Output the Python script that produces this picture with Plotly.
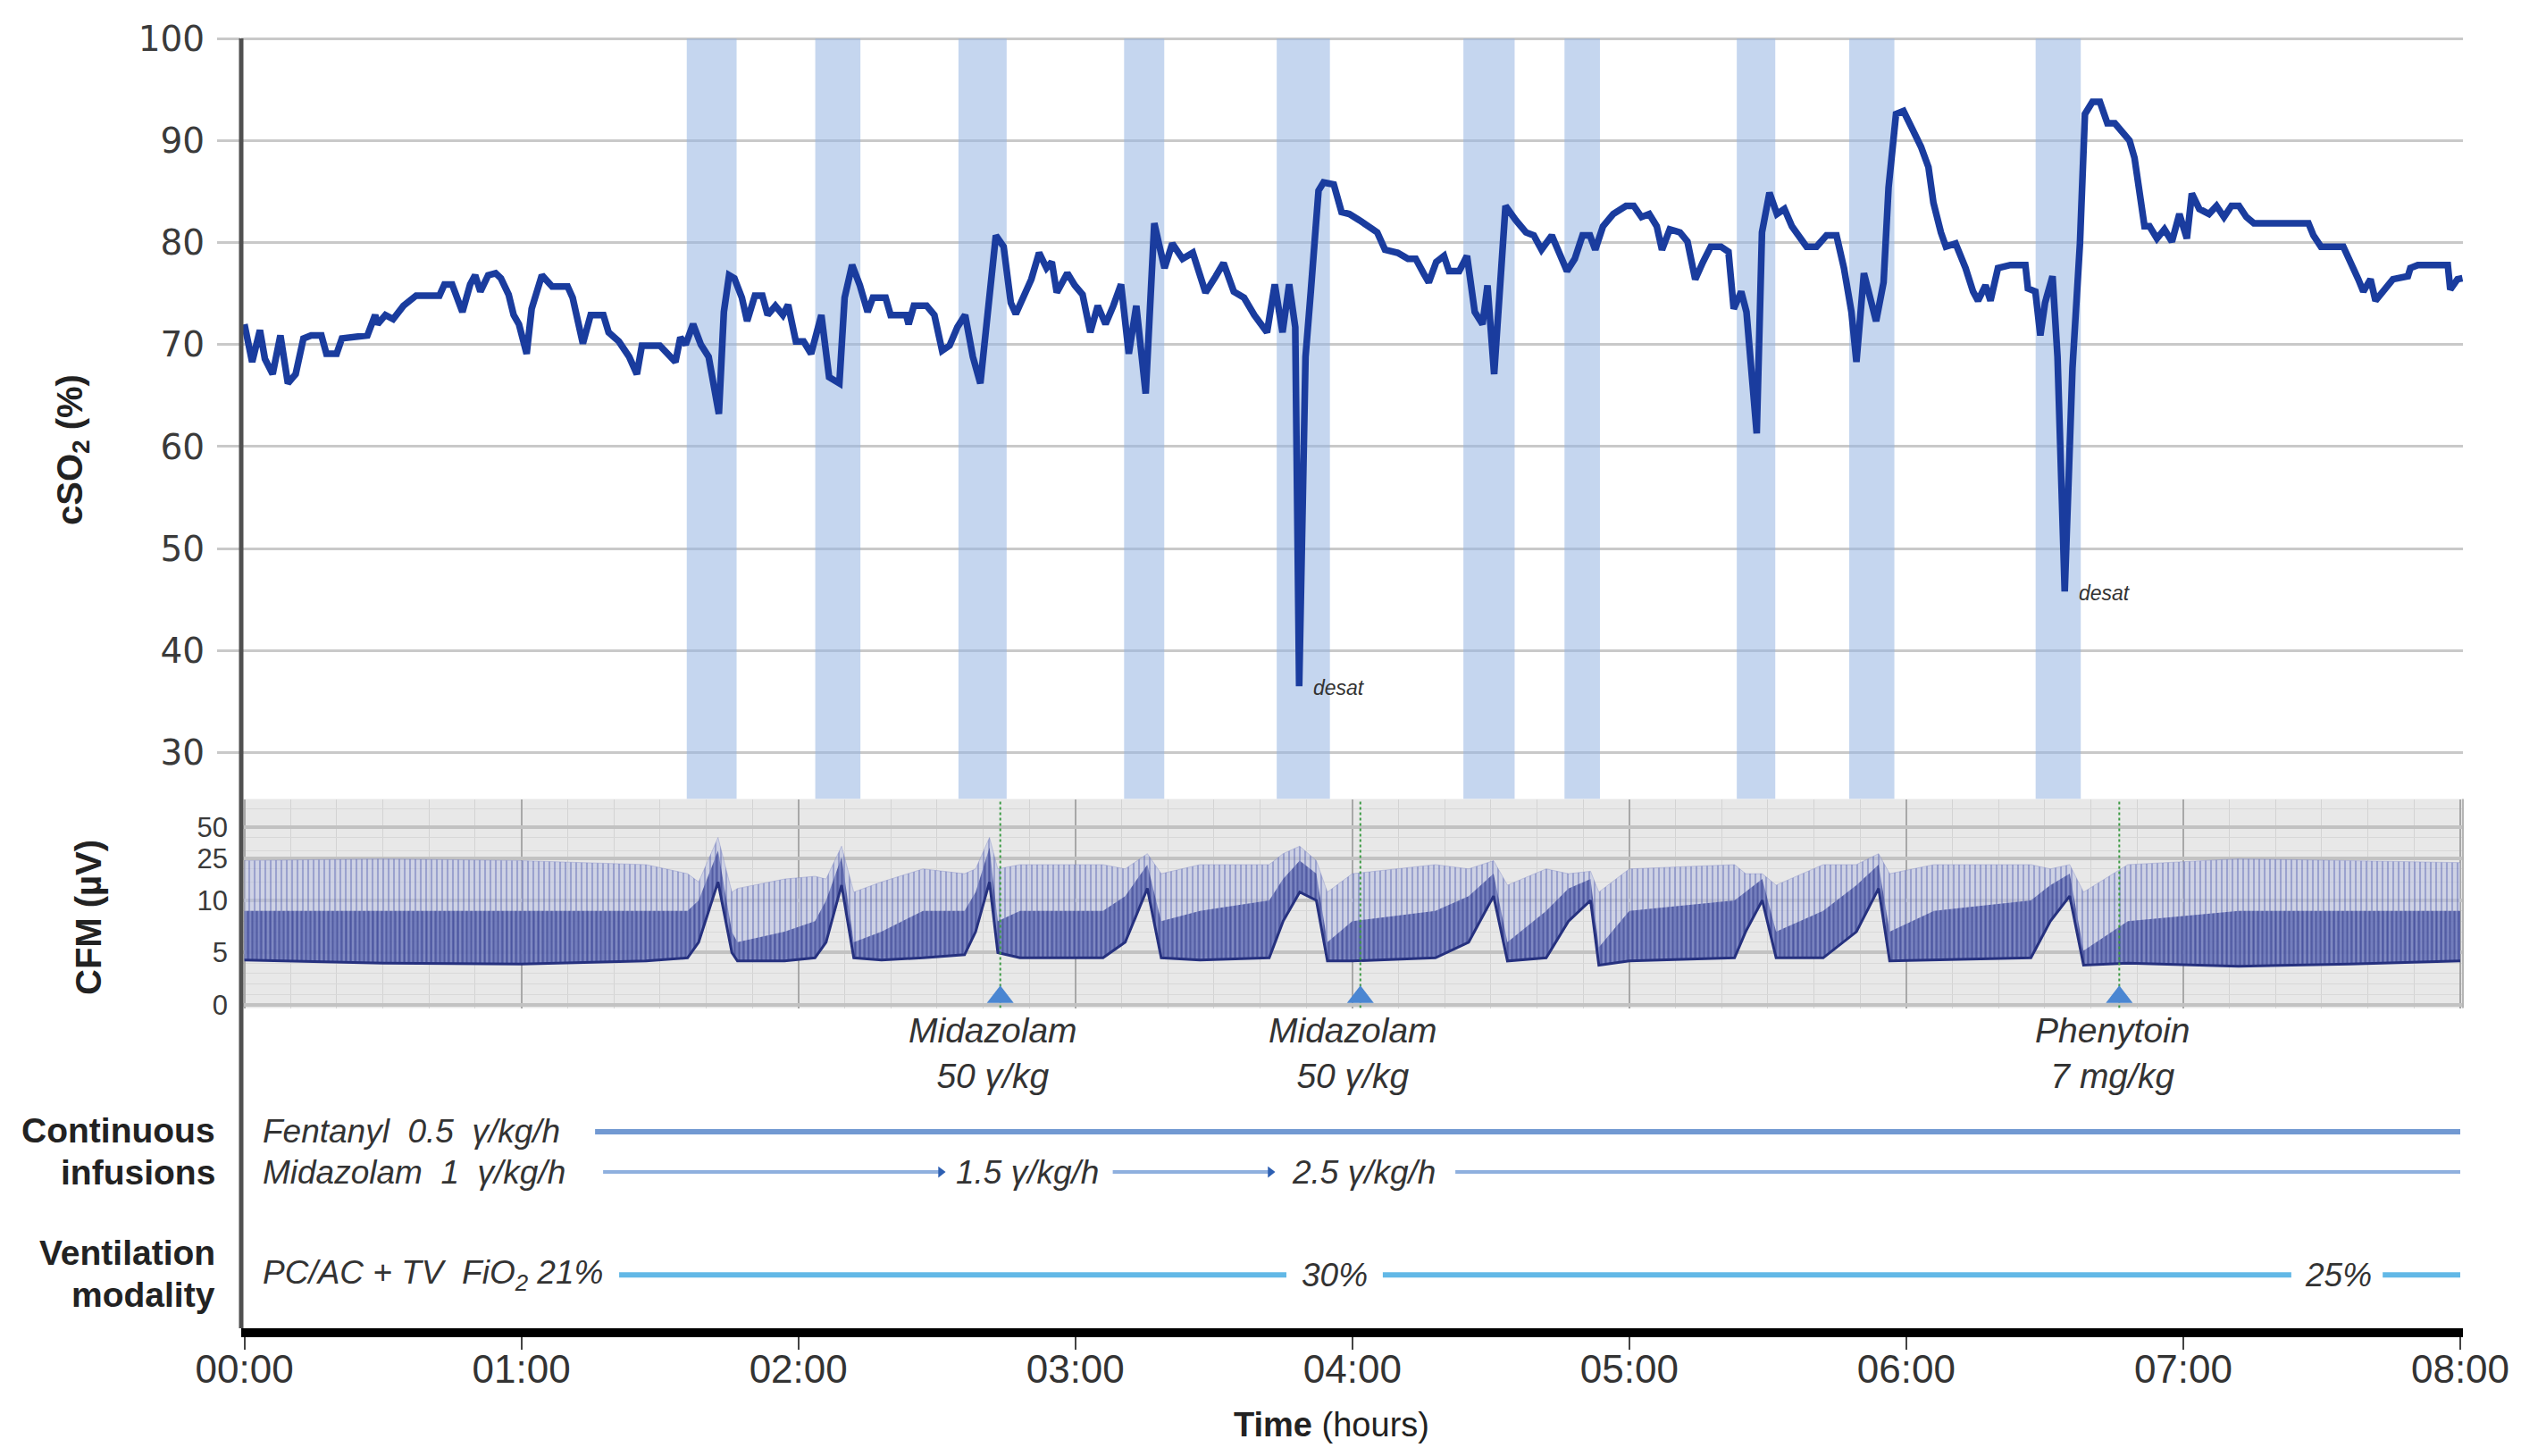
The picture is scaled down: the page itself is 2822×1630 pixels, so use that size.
import numpy as np
import plotly.graph_objects as go

# page has an 8px body margin, so the figure is drawn 8px in from the window edges
PAGE_PAD = 8
W, H = 2822 - 2 * PAGE_PAD, 1630 - 2 * PAGE_PAD

# ---- cSO2 trace (hours, %) ----
cso2_hours = [
    0.000, 0.028, 0.056, 0.074, 0.102, 0.130, 0.157, 0.185, 0.213, 0.241, 0.278, 0.296,
    0.333, 0.352, 0.444, 0.472, 0.481, 0.509, 0.537, 0.574, 0.620, 0.704, 0.722, 0.750,
    0.787, 0.815, 0.833, 0.852, 0.880, 0.907, 0.926, 0.954, 0.972, 0.991, 1.019, 1.037,
    1.074, 1.111, 1.167, 1.185, 1.222, 1.250, 1.296, 1.315, 1.352, 1.389, 1.417, 1.435,
    1.500, 1.556, 1.574, 1.593, 1.620, 1.648, 1.676, 1.713, 1.731, 1.750, 1.769, 1.796,
    1.815, 1.843, 1.870, 1.889, 1.917, 1.944, 1.963, 1.991, 2.019, 2.046, 2.083, 2.111,
    2.148, 2.167, 2.194, 2.222, 2.250, 2.269, 2.315, 2.333, 2.389, 2.398, 2.417, 2.463,
    2.491, 2.519, 2.546, 2.574, 2.602, 2.630, 2.657, 2.685, 2.713, 2.741, 2.767, 2.785,
    2.813, 2.841, 2.869, 2.896, 2.915, 2.933, 2.971, 2.998, 3.026, 3.054, 3.081, 3.109,
    3.137, 3.165, 3.193, 3.220, 3.254, 3.285, 3.304, 3.322, 3.350, 3.387, 3.424, 3.470,
    3.507, 3.535, 3.572, 3.609, 3.646, 3.692, 3.720, 3.748, 3.772, 3.794, 3.808, 3.831,
    3.850, 3.878, 3.896, 3.933, 3.961, 3.989, 4.025, 4.053, 4.090, 4.118, 4.164, 4.201,
    4.229, 4.257, 4.276, 4.303, 4.331, 4.349, 4.386, 4.414, 4.442, 4.470, 4.488, 4.512,
    4.535, 4.553, 4.590, 4.627, 4.655, 4.683, 4.720, 4.748, 4.775, 4.803, 4.831, 4.858,
    4.877, 4.905, 4.942, 4.988, 5.016, 5.044, 5.072, 5.099, 5.118, 5.146, 5.183, 5.210,
    5.238, 5.266, 5.294, 5.331, 5.358, 5.377, 5.404, 5.423, 5.460, 5.479, 5.506, 5.533,
    5.560, 5.587, 5.604, 5.640, 5.676, 5.712, 5.748, 5.775, 5.802, 5.820, 5.847, 5.870,
    5.891, 5.918, 5.936, 5.963, 5.990, 6.017, 6.053, 6.080, 6.098, 6.125, 6.143, 6.178,
    6.196, 6.214, 6.241, 6.259, 6.286, 6.304, 6.331, 6.376, 6.430, 6.439, 6.466, 6.484,
    6.501, 6.528, 6.546, 6.572, 6.600, 6.627, 6.645, 6.672, 6.699, 6.726, 6.753, 6.779,
    6.806, 6.824, 6.842, 6.860, 6.878, 6.905, 6.932, 6.959, 6.986, 7.013, 7.031, 7.058,
    7.093, 7.120, 7.147, 7.174, 7.201, 7.228, 7.255, 7.452, 7.470, 7.497, 7.578, 7.605,
    7.632, 7.650, 7.676, 7.694, 7.721, 7.757, 7.811, 7.820, 7.847, 7.955, 7.964, 7.990,
    8.008,
]
cso2_values = [
    72.0, 68.3, 71.4, 68.6, 67.1, 70.9, 66.2, 67.1, 70.6, 70.9, 70.9, 69.1,
    69.1, 70.6, 70.9, 72.9, 72.0, 72.9, 72.5, 73.8, 74.8, 74.8, 75.9, 75.9,
    73.2, 75.9, 76.8, 75.2, 76.8, 77.0, 76.5, 74.9, 72.9, 72.0, 69.1, 73.5,
    76.8, 75.7, 75.7, 74.6, 70.1, 72.9, 72.9, 71.2, 70.3, 68.8, 67.1, 69.9,
    69.9, 68.3, 70.7, 70.0, 72.0, 70.0, 68.8, 63.2, 73.2, 76.8, 76.5, 74.6,
    72.3, 74.8, 74.8, 72.9, 73.8, 72.9, 73.9, 70.3, 70.3, 69.1, 72.9, 66.8,
    66.2, 74.6, 77.8, 75.8, 73.2, 74.6, 74.6, 72.9, 72.9, 72.0, 73.8, 73.8,
    72.9, 69.4, 69.9, 71.7, 72.9, 68.8, 66.2, 73.2, 80.7, 79.6, 74.1, 73.0,
    74.6, 76.4, 79.0, 77.5, 78.1, 75.1, 77.0, 75.8, 74.9, 71.2, 73.8, 72.0,
    73.8, 75.9, 69.1, 73.8, 65.2, 81.9, 79.6, 77.5, 79.9, 78.4, 79.0, 75.1,
    76.7, 78.0, 75.2, 74.6, 72.9, 71.2, 75.9, 71.2, 75.9, 71.7, 36.5, 68.8,
    75.2, 85.1, 85.9, 85.7, 83.0, 82.8, 82.2, 81.6, 81.0, 79.3, 79.0, 78.4,
    78.4, 77.0, 76.1, 78.1, 78.7, 77.2, 77.2, 78.7, 73.2, 72.0, 75.8, 67.1,
    76.1, 83.6, 82.2, 81.0, 80.7, 79.3, 80.7, 78.7, 77.2, 78.4, 80.7, 80.7,
    79.3, 81.6, 82.8, 83.6, 83.6, 82.5, 82.8, 81.6, 79.3, 81.3, 81.0, 80.1,
    76.4, 78.1, 79.6, 79.6, 79.1, 73.5, 75.2, 73.2, 61.3, 81.0, 84.9, 82.8,
    83.3, 81.6, 81.0, 79.6, 79.6, 80.7, 80.7, 77.5, 73.2, 68.3, 77.0, 74.6,
    72.3, 76.1, 85.4, 92.6, 92.9, 91.4, 89.4, 87.4, 83.9, 81.0, 79.6, 79.9,
    78.7, 77.5, 75.2, 74.3, 75.8, 74.3, 77.5, 77.8, 77.8, 75.5, 75.2, 70.9,
    74.1, 76.7, 68.8, 45.8, 67.7, 79.9, 92.6, 93.8, 93.8, 91.7, 91.7, 90.9,
    90.0, 88.3, 84.8, 81.6, 81.6, 80.4, 81.3, 80.1, 82.8, 80.4, 84.8, 83.3,
    82.8, 83.6, 82.5, 83.6, 83.6, 82.5, 81.9, 81.9, 80.7, 79.6, 79.6, 78.1,
    76.4, 75.2, 76.4, 74.3, 75.2, 76.4, 76.7, 77.5, 77.8, 77.8, 75.4, 76.4,
    76.5,
]

# seizure periods (shaded bands), hours
seizure_start = [1.597, 2.061, 2.578, 3.176, 3.727, 4.401, 4.766, 5.388, 5.794, 6.467]
seizure_end = [1.777, 2.224, 2.752, 3.321, 3.919, 4.586, 4.894, 5.527, 5.957, 6.630]

desat_hours = [3.808, 6.572]
desat_values = [36.5, 45.8]

# ---- CFM envelope (hours, microvolts) ----
cfm_hours = [0.00, 0.50, 1.00, 1.45, 1.60, 1.64, 1.71, 1.76, 1.78, 1.95, 2.06, 2.10,
             2.156, 2.20, 2.30, 2.45, 2.60, 2.64, 2.69, 2.72, 2.80, 3.10, 3.18, 3.26,
             3.31, 3.45, 3.70, 3.75, 3.81, 3.87, 3.91, 4.00, 4.30, 4.42, 4.51, 4.56,
             4.70, 4.78, 4.86, 4.89, 5.00, 5.38, 5.42, 5.48, 5.53, 5.70, 5.82, 5.90,
             5.94, 6.10, 6.45, 6.52, 6.59, 6.64, 6.80, 7.20, 7.60, 8.00]
cfm_low = [4.3, 4.0, 3.9, 4.2, 4.5, 6.0, 15.0, 5.0, 4.2, 4.2, 4.5, 6.0,
           14.0, 4.5, 4.3, 4.5, 4.8, 7.0, 15.0, 5.0, 4.5, 4.5, 6.0, 13.0,
           4.5, 4.3, 4.5, 8.0, 12.0, 10.0, 4.2, 4.2, 4.5, 6.0, 11.0, 4.2,
           4.5, 8.0, 10.0, 3.8, 4.2, 4.5, 7.0, 10.0, 4.5, 4.5, 7.0, 13.0,
           4.2, 4.3, 4.5, 8.0, 11.0, 3.8, 4.0, 3.7, 3.9, 4.2]
cfm_core = [9, 9, 9, 9, 9, 10, 30, 7, 6, 7, 8, 10,
            26, 6, 7, 9, 9, 12, 32, 8, 9, 9, 11, 22,
            8, 9, 10, 16, 24, 18, 6, 8, 9, 11, 18, 6,
            9, 13, 16, 5.5, 9, 10, 12, 16, 7, 9, 14, 22,
            7, 9, 10, 14, 18, 5.2, 8, 9, 9, 9]
cfm_high = [24, 25, 24, 22, 18, 15, 40, 12, 13, 16, 17, 16,
            33, 12, 15, 20, 18, 20, 40, 20, 22, 22, 20, 28,
            18, 22, 22, 28, 33, 24, 12, 18, 22, 20, 24, 14,
            20, 18, 19, 12, 20, 22, 18, 18, 14, 22, 22, 28,
            18, 22, 22, 20, 22, 12, 22, 25, 24, 23]
cfm_tick_values = [0, 5, 10, 25, 50]
cfm_minor_values = [1, 2, 3, 4, 6, 7, 8, 9, 15, 20, 30, 40, 75]

# boluses
bolus_hours = [2.729, 4.029, 6.769]
bolus_labels = ["Midazolam<br>50 γ/kg", "Midazolam<br>50 γ/kg", "Phenytoin<br>7 mg/kg"]

# continuous infusions / ventilation
fentanyl_segments = [(1.266, 8.0)]
midazolam_segments = [(1.295, 2.514), (3.135, 3.704), (4.372, 8.0)]
midazolam_arrows = [2.514, 3.704]
midazolam_rate_hours = [2.827, 4.040]
midazolam_rate_labels = ["1.5 γ/kg/h", "2.5 γ/kg/h"]
vent_segments = [(1.353, 3.762), (4.11, 7.39), (7.72, 8.0)]
fio2_hours = [3.936, 7.559]
fio2_labels = ["30%", "25%"]

hour_ticks = [0, 1, 2, 3, 4, 5, 6, 7, 8]
hour_labels = ["00:00", "01:00", "02:00", "03:00", "04:00", "05:00", "06:00", "07:00", "08:00"]


def cfm_scale(v):
    # aEEG amplitude axis: linear 0-10 uV, logarithmic 10-100 uV
    v = np.asarray(v, dtype=float)
    return np.where(v <= 10, v / 10.0, 1 + np.log10(np.maximum(v, 10) / 10.0))


def px(x):
    # window pixel -> paper fraction
    return (x - PAGE_PAD) / W


def py(y):
    return 1 - (y - PAGE_PAD) / H


X_RANGE = [-0.0116, 8.0097]
X_DOM = [px(270), px(2757)]
Y1_RANGE = [25.43, 100.3]
Y2_RANGE = [-0.031, 1.969]
SANS = "Liberation Sans, Arial, sans-serif"
TXT = "#333333"

fig = go.Figure()

# cSO2
fig.add_trace(go.Scatter(x=cso2_hours, y=cso2_values, mode="lines",
                         line=dict(color="#1a3c9e", width=7.5), xaxis="x", yaxis="y"))

# CFM bands (vertical hatching stands in for the dense raw trace)
fig.add_trace(go.Scatter(x=cfm_hours, y=cfm_scale(cfm_high), mode="lines",
                         line=dict(color="rgba(120,130,195,0.35)", width=1), xaxis="x2", yaxis="y2"))
fig.add_trace(go.Scatter(x=cfm_hours, y=cfm_scale(cfm_low), mode="lines", fill="tonexty",
                         fillcolor="rgba(150,160,210,0.35)",
                         fillpattern=dict(shape="|", fgcolor="rgba(65,80,168,0.75)",
                                          bgcolor="rgba(185,192,226,0.55)", size=6, solidity=0.35),
                         line=dict(width=0), xaxis="x2", yaxis="y2"))
fig.add_trace(go.Scatter(x=cfm_hours, y=cfm_scale(cfm_core), mode="lines",
                         line=dict(width=0), xaxis="x2", yaxis="y2"))
fig.add_trace(go.Scatter(x=cfm_hours, y=cfm_scale(cfm_low), mode="lines", fill="tonexty",
                         fillpattern=dict(shape="|", fgcolor="rgba(30,40,125,0.9)",
                                          bgcolor="rgba(100,112,182,0.75)", size=5, solidity=0.45),
                         line=dict(width=0), xaxis="x2", yaxis="y2"))
fig.add_trace(go.Scatter(x=cfm_hours, y=cfm_scale(cfm_low), mode="lines",
                         line=dict(color="#26317f", width=3), xaxis="x2", yaxis="y2"))

# bolus markers
for t in bolus_hours:
    fig.add_trace(go.Scatter(x=[t, t], y=Y2_RANGE, mode="lines",
                             line=dict(color="#3d9b45", width=2, dash="dot"), xaxis="x2", yaxis="y2"))
fig.add_trace(go.Scatter(x=bolus_hours, y=[0.075] * len(bolus_hours), mode="markers",
                         marker=dict(symbol="triangle-up", size=26, color="#4a86d2"),
                         cliponaxis=False, xaxis="x2", yaxis="y2"))

# infusion / ventilation lines (bottom panel, rows in y3 units)
ROW_FENT, ROW_MIDA, ROW_VENT, ROW_BOLUS = 0.614, 0.488, 0.167, 0.858
for a, b in fentanyl_segments:
    fig.add_trace(go.Scatter(x=[a, b], y=[ROW_FENT, ROW_FENT], mode="lines",
                             line=dict(color="#7299d2", width=6), xaxis="x3", yaxis="y3"))
for a, b in midazolam_segments:
    fig.add_trace(go.Scatter(x=[a, b], y=[ROW_MIDA, ROW_MIDA], mode="lines",
                             line=dict(color="#8fb0de", width=4), xaxis="x3", yaxis="y3"))
fig.add_trace(go.Scatter(x=midazolam_arrows, y=[ROW_MIDA] * len(midazolam_arrows), mode="markers",
                         marker=dict(symbol="triangle-right", size=11, color="#2d5fb2"),
                         xaxis="x3", yaxis="y3"))
for a, b in vent_segments:
    fig.add_trace(go.Scatter(x=[a, b], y=[ROW_VENT, ROW_VENT], mode="lines",
                             line=dict(color="#62b8e6", width=6), xaxis="x3", yaxis="y3"))

shapes = []
for a, b in zip(seizure_start, seizure_end):
    shapes.append(dict(type="rect", xref="x", yref="y", x0=a, x1=b, y0=Y1_RANGE[0], y1=100,
                       fillcolor="rgba(150,180,225,0.55)", line=dict(width=0), layer="between"))
# CFM panel background and right border
shapes.append(dict(type="rect", xref="x2 domain", yref="y2 domain", x0=0, x1=1, y0=0, y1=1,
                   fillcolor="#e8e8e8", line=dict(width=0), layer="below"))
shapes.append(dict(type="line", xref="x2 domain", yref="y2 domain", x0=1, x1=1, y0=0, y1=1,
                   line=dict(color="#b5b5b5", width=2)))
# left axis line through all panels
shapes.append(dict(type="line", xref="paper", yref="paper", x0=px(270), x1=px(270),
                   y0=py(1487), y1=py(43), line=dict(color="#505050", width=5)))

ann = []
for t, v in zip(desat_hours, desat_values):
    ann.append(dict(x=t, y=v, xref="x", yref="y", text="<i>desat</i>", showarrow=False,
                    xanchor="left", yanchor="middle", xshift=14, yshift=-2,
                    font=dict(family=SANS, size=23, color=TXT)))
for t, lab in zip(bolus_hours, bolus_labels):
    ann.append(dict(x=t, y=ROW_BOLUS, xref="x3", yref="y3", text="<i>" + lab + "</i>",
                    showarrow=False, xanchor="center", yanchor="middle", xshift=-8,
                    font=dict(family=SANS, size=39, color=TXT)))

ann.append(dict(x=0.06, y=ROW_FENT, xref="x3", yref="y3", text="<i>Fentanyl  0.5  γ/kg/h</i>",
                showarrow=False, xanchor="left", yanchor="middle", font=dict(family=SANS, size=37, color=TXT)))
ann.append(dict(x=0.06, y=ROW_MIDA, xref="x3", yref="y3", text="<i>Midazolam  1  γ/kg/h</i>",
                showarrow=False, xanchor="left", yanchor="middle", font=dict(family=SANS, size=37, color=TXT)))
for t, lab in zip(midazolam_rate_hours, midazolam_rate_labels):
    ann.append(dict(x=t, y=ROW_MIDA, xref="x3", yref="y3", text="<i>" + lab + "</i>",
                    showarrow=False, xanchor="center", yanchor="middle",
                    font=dict(family=SANS, size=37, color=TXT)))
ann.append(dict(x=0.06, y=ROW_VENT, xref="x3", yref="y3", text="<i>PC/AC + TV  FiO<sub>2</sub> 21%</i>",
                showarrow=False, xanchor="left", yanchor="middle", font=dict(family=SANS, size=37, color=TXT)))
for t, lab in zip(fio2_hours, fio2_labels):
    ann.append(dict(x=t, y=ROW_VENT, xref="x3", yref="y3", text="<i>" + lab + "</i>",
                    showarrow=False, xanchor="center", yanchor="middle",
                    font=dict(family=SANS, size=37, color=TXT)))

for txt, y in [("Continuous", 1265), ("infusions", 1312), ("Ventilation", 1402), ("modality", 1449)]:
    ann.append(dict(x=px(243), y=py(y), xref="paper", yref="paper", text="<b>" + txt + "</b>",
                    showarrow=False, xanchor="right", yanchor="middle",
                    font=dict(family=SANS, size=39, color="#222222")))

ann.append(dict(x=px(81), y=py(504), xref="paper", yref="paper", text="<b>cSO<sub>2</sub> (%)</b>",
                showarrow=False, textangle=-90, xanchor="center", yanchor="middle",
                font=dict(family=SANS, size=40, color="#222222")))
ann.append(dict(x=px(99), y=py(1027), xref="paper", yref="paper", text="<b>CFM (µV)</b>",
                showarrow=False, textangle=-90, xanchor="center", yanchor="middle",
                font=dict(family=SANS, size=40, color="#222222")))
ann.append(dict(x=px(1490), y=py(1595), xref="paper", yref="paper", text="<b>Time</b> (hours)",
                showarrow=False, xanchor="center", yanchor="middle",
                font=dict(family=SANS, size=38, color="#222222")))

fig.update_layout(
    width=W, height=H, margin=dict(l=0, r=0, t=0, b=0),
    paper_bgcolor="white", plot_bgcolor="rgba(0,0,0,0)", showlegend=False,
    shapes=shapes, annotations=ann,
    xaxis=dict(domain=X_DOM, range=X_RANGE, anchor="y", showgrid=False, zeroline=False,
               showticklabels=False, ticks="", automargin=False),
    yaxis=dict(domain=[py(894.6), py(39.8)], range=Y1_RANGE, tickvals=list(range(30, 101, 10)),
               showgrid=True, gridcolor="#c9c9c9", gridwidth=3, zeroline=False, automargin=False,
               ticks="outside", ticklen=26, tickwidth=3, tickcolor="#c9c9c9", ticklabelstandoff=6,
               tickfont=dict(family="DejaVu Sans", size=39, color="#3a3a3a")),
    xaxis2=dict(domain=X_DOM, range=X_RANGE, anchor="y2", showticklabels=False, zeroline=False,
                tickvals=hour_ticks, showgrid=True, gridcolor="#a8a8a8", gridwidth=1.5, ticks="",
                automargin=False,
                minor=dict(tickvals=list(np.arange(0, 8.01, 1 / 6)), showgrid=True,
                           gridcolor="#d3d3d3", gridwidth=1)),
    yaxis2=dict(domain=[py(1128.6), py(894.6)], range=Y2_RANGE, tickvals=list(cfm_scale(cfm_tick_values)),
                ticktext=[str(v) for v in cfm_tick_values], showgrid=True, gridcolor="#c2c2c2",
                gridwidth=4, zeroline=False, ticks="", ticklabelstandoff=14, automargin=False,
                minor=dict(tickvals=list(cfm_scale(cfm_minor_values)), showgrid=True,
                           gridcolor="#d8d8d8", gridwidth=1),
                tickfont=dict(family=SANS, size=31, color="#3a3a3a")),
    xaxis3=dict(domain=X_DOM, range=X_RANGE, anchor="y3", showgrid=False, zeroline=False,
                showline=True, linecolor="black", linewidth=10, automargin=False,
                tickvals=hour_ticks, ticktext=hour_labels, ticks="outside", ticklen=14,
                tickwidth=2, tickcolor="#444444", ticklabelstandoff=-16,
                tickfont=dict(family=SANS, size=44, color="#333333")),
    yaxis3=dict(domain=[py(1487), py(1128.6)], range=[0, 1], visible=False, automargin=False),
)

fig.write_html("out.html")
